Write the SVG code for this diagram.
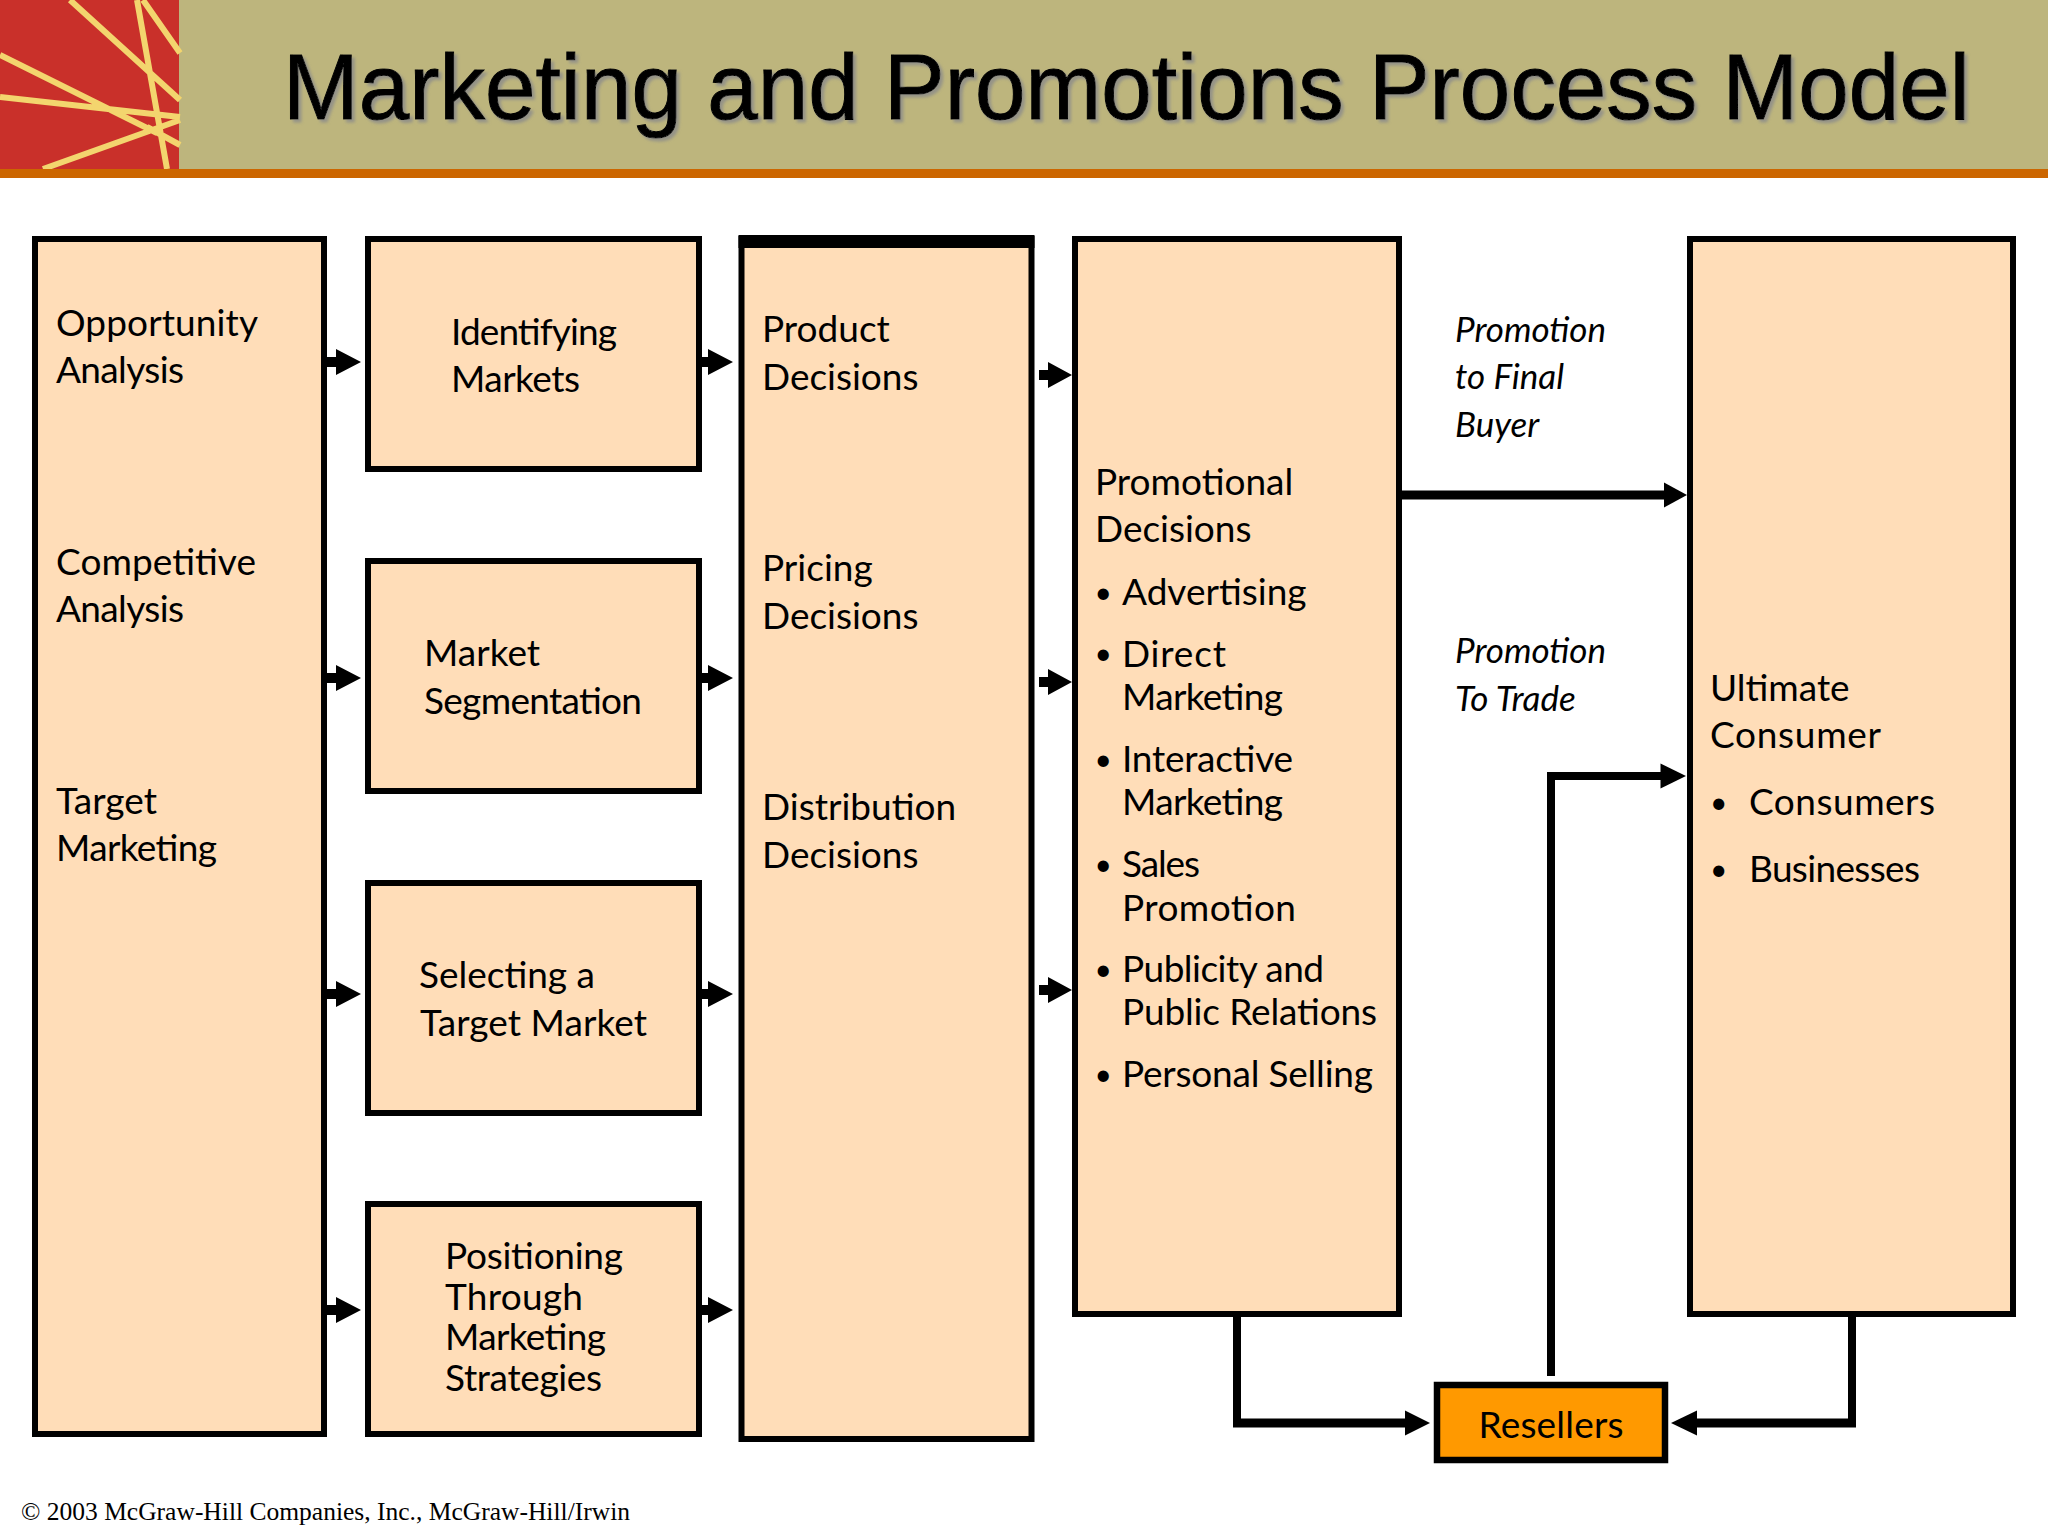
<svg xmlns="http://www.w3.org/2000/svg" width="2048" height="1536" viewBox="0 0 2048 1536">
<defs>
<filter id="sh" x="-5%" y="-20%" width="110%" height="140%"><feDropShadow dx="3" dy="3" stdDeviation="1.5" flood-color="#8a8a8a" flood-opacity="0.8"/></filter>
</defs>
<style>
.box{fill:#FFDDB8;stroke:#000;stroke-width:6}
.t{font-family:"Lato","Liberation Sans",sans-serif;font-size:37px;fill:#000}
.i{font-style:italic;font-size:35px}
.b{font-size:30px}
.ln{stroke:#F3D56E;fill:none}
.c{stroke:#000;fill:none}
.h{fill:#000}
</style>
<rect width="2048" height="1536" fill="#fff"/>
<g id="header">
<rect x="0" y="0" width="2048" height="170" fill="#BDB57D"/>
<rect x="0" y="0" width="179" height="170" fill="#C9302A"/>
<g class="ln" stroke-width="6">
<path d="M70 0L180 100M137 0L167 169M143 0L180 53M0 55L157 133M0 97L180 117M43 169L180 120M147 127L180 145"/>
</g>
<rect x="0" y="169" width="2048" height="9" fill="#CC6600"/>
<text x="283" y="119" font-family="Liberation Sans,sans-serif" font-size="93" textLength="1687" lengthAdjust="spacingAndGlyphs" stroke="#000" stroke-width="1" filter="url(#sh)">Marketing and Promotions Process Model</text>
</g>
<g id="connectors">
<path class="c" stroke-width="10" d="M327 362H340M327 678H340M327 994H340M327 1310H340M700 362H712M700 678H712M700 994H712M700 1310H712M1039 375H1052M1039 682H1052M1039 990H1052"/>
<path class="h" d="M336 349L361 362L336 375ZM336 665L361 678L336 691ZM336 981L361 994L336 1007ZM336 1297L361 1310L336 1323ZM708 349L733 362L708 375ZM708 665L733 678L708 691ZM708 981L733 994L708 1007ZM708 1297L733 1310L708 1323ZM1048 362L1072 375L1048 388ZM1048 669L1072 682L1048 695ZM1048 977L1072 990L1048 1003Z"/>
<path class="c" stroke-width="9" d="M1402 495H1668"/>
<path class="h" d="M1664 482.500L1687 495L1664 507.500Z"/>
<path class="c" stroke-width="8" d="M1551 1376V776H1664"/>
<path class="h" d="M1660.500 763.500L1686 776L1660.500 788.500Z"/>
<path class="c" stroke-width="8" d="M1237 1317V1423"/>
<path class="c" stroke-width="9" d="M1233 1423H1410"/>
<path class="h" d="M1405 1410.500L1430 1423L1405 1435.500Z"/>
<path class="c" stroke-width="8" d="M1852 1317V1423"/>
<path class="c" stroke-width="9" d="M1856 1423H1690"/>
<path class="h" d="M1697 1410.500L1671 1423L1697 1435.500Z"/>
</g>
<g id="n1"><rect class="box" x="35" y="239" width="289" height="1195"/>
<text class="t" x="56" y="336" textLength="202">Opportunity</text><text class="t" x="56" y="383" textLength="128">Analysis</text>
<text class="t" x="56" y="575" textLength="200">Competitive</text><text class="t" x="56" y="622" textLength="128">Analysis</text>
<text class="t" x="56" y="814" textLength="101">Target</text><text class="t" x="56" y="861" textLength="161">Marketing</text></g>
<g id="n2"><rect class="box" x="368" y="239" width="331" height="230"/>
<text class="t" x="451" y="345" textLength="166">Identifying</text><text class="t" x="451" y="392" textLength="129">Markets</text></g>
<g id="n3"><rect class="box" x="368" y="561" width="331" height="230"/>
<text class="t" x="424" y="666">Market</text><text class="t" x="424" y="714" textLength="218">Segmentation</text></g>
<g id="n4"><rect class="box" x="368" y="883" width="331" height="230"/>
<text class="t" x="419" y="988">Selecting a</text><text class="t" x="420" y="1036" textLength="227">Target Market</text></g>
<g id="n5"><rect class="box" x="368" y="1204" width="331" height="230"/>
<text class="t" x="445" y="1269" textLength="178">Positioning</text><text class="t" x="445" y="1310" textLength="138">Through</text><text class="t" x="445" y="1350" textLength="161">Marketing</text><text class="t" x="445" y="1391" textLength="157">Strategies</text></g>
<g id="n6"><rect class="box" x="741.500" y="238" width="290" height="1201"/><rect x="738.500" y="236" width="296" height="12" fill="#000"/>
<text class="t" x="762" y="342">Product</text><text class="t" x="762" y="390">Decisions</text>
<text class="t" x="762" y="581">Pricing</text><text class="t" x="762" y="629">Decisions</text>
<text class="t" x="762" y="820">Distribution</text><text class="t" x="762" y="868">Decisions</text></g>
<g id="n7"><rect class="box" x="1075" y="239" width="324" height="1075"/>
<text class="t" x="1095" y="495">Promotional</text><text class="t" x="1095" y="542">Decisions</text>
<text class="t b" x="1094.500" y="603">•</text><text class="t" x="1122" y="605">Advertising</text>
<text class="t b" x="1094.500" y="664">•</text><text class="t" x="1122" y="667" textLength="104">Direct</text><text class="t" x="1122" y="710" textLength="161">Marketing</text>
<text class="t b" x="1094.500" y="770">•</text><text class="t" x="1122" y="772" textLength="171">Interactive</text><text class="t" x="1122" y="815" textLength="161">Marketing</text>
<text class="t b" x="1094.500" y="875">•</text><text class="t" x="1122" y="877" textLength="78">Sales</text><text class="t" x="1122" y="921" textLength="174">Promotion</text>
<text class="t b" x="1094.500" y="980">•</text><text class="t" x="1122" y="982" textLength="202">Publicity and</text><text class="t" x="1122" y="1025" textLength="255">Public Relations</text>
<text class="t b" x="1094.500" y="1085">•</text><text class="t" x="1122" y="1087" textLength="251">Personal Selling</text></g>
<g id="n8"><rect class="box" x="1690" y="239" width="323" height="1075"/>
<text class="t" x="1710" y="701">Ultimate</text><text class="t" x="1710" y="748" textLength="171">Consumer</text>
<text class="t b" x="1710" y="813">•</text><text class="t" x="1749" y="815" textLength="186">Consumers</text>
<text class="t b" x="1710" y="880">•</text><text class="t" x="1749" y="882" textLength="171">Businesses</text></g>
<g id="n9"><rect x="1437" y="1385" width="228" height="75" fill="#FF9900" stroke="#000" stroke-width="6.500"/>
<text class="t" x="1551" y="1438" text-anchor="middle" textLength="145">Resellers</text></g>
<g id="labels">
<text class="t i" x="1455" y="342">Promotion</text><text class="t i" x="1455" y="389">to Final</text><text class="t i" x="1455" y="437">Buyer</text>
<text class="t i" x="1455" y="663">Promotion</text><text class="t i" x="1455" y="711">To Trade</text>
</g>
<text id="footer" x="21" y="1520" font-family="Liberation Serif,serif" font-size="26" textLength="609" lengthAdjust="spacingAndGlyphs">© 2003 McGraw-Hill Companies, Inc., McGraw-Hill/Irwin</text>
</svg>
